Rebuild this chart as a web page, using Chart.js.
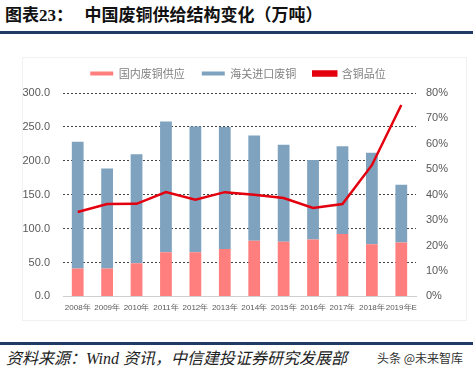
<!DOCTYPE html>
<html>
<head>
<meta charset="utf-8">
<script src="https://cdn.jsdelivr.net/npm/chart.js@4/dist/chart.umd.min.js"></script>
<style>
  html, body { margin:0; padding:0; background:#fff; }
  body { width:476px; height:373px; position:relative; overflow:hidden; }
  #title { position:absolute; left:5px; top:2px; font-family:"Noto Sans CJK SC", sans-serif; font-weight:bold; font-size:17px; color:#111; white-space:nowrap; line-height:24px; }
  #title .num { font-family:"Liberation Serif", serif; font-weight:bold; }
  #rule1 { position:absolute; left:0; top:31px; width:473px; height:3px; background:#1F3A63; }
  #frame { position:absolute; left:22px; top:57px; width:443px; height:262px; border:1px solid #f1f1f1; }
  #rule2 { position:absolute; left:0; top:342px; width:473px; height:3px; background:#1F3A63; }
  #source { position:absolute; left:6px; top:348px; font-family:"Liberation Serif", "Noto Sans CJK SC", serif; font-style:italic; font-size:16px; color:#222; white-space:nowrap; line-height:22px; }
  #wm { position:absolute; left:377px; top:350px; font-family:"Noto Sans CJK SC", sans-serif; font-size:12px; color:#333; white-space:nowrap; line-height:16px; }
  #wrap { position:absolute; left:0; top:0; width:476px; height:373px; }
</style>
</head>
<body>
<div id="title">图表<span class="num">23</span>：&nbsp;&nbsp;&nbsp;中国废铜供给结构变化（万吨）</div>
<div id="rule1"></div>
<div id="frame"></div>
<div id="rule2"></div>
<div id="source">资料来源：Wind 资讯，中信建投证券研究发展部</div>
<div id="wm">头条 @未来智库</div>
<div id="wrap"><canvas id="c" width="476" height="373"></canvas></div>
<script>
const categories = ["2008年","2009年","2010年","2011年","2012年","2013年","2014年","2015年","2016年","2017年","2018年","2019年E"];
const domesticSupply = [41, 41, 49, 65, 65, 70, 82, 80.5, 84, 92, 77, 79.5];
const importedScrap = [187, 147.5, 160.5, 193, 185.5, 180, 155.5, 143, 117, 129.5, 135, 85];
const copperGrade = [33.2, 36.3, 36.4, 41, 38, 41, 40, 38.7, 34.8, 36.3, 51.6, 75.3];
const seriesNames = ["国内废铜供应", "海关进口废铜", "含铜品位"];

const gridColor = (ctx) => (ctx.tick && ctx.tick.value === 0) ? 'rgba(0,0,0,0)' : '#444';

const legendGap = {
  id: 'legendGap',
  beforeLayout(chart) {
    const lg = chart.legend;
    if (lg && !lg._gapPatched) {
      const f = lg.fit.bind(lg);
      lg.fit = function () { f(); this.height += 4; };
      lg._gapPatched = true;
    }
  }
};

new Chart(document.getElementById('c'), {
  type: 'bar',
  data: {
    labels: categories,
    datasets: [
      { label: seriesNames[0], data: domesticSupply, backgroundColor: '#FF7F7F', yAxisID: 'y', order: 2, stack: 's' },
      { label: seriesNames[1], data: importedScrap, backgroundColor: '#7FA3BF', yAxisID: 'y', order: 3, stack: 's' },
      { label: seriesNames[2], data: copperGrade, type: 'line', borderColor: '#E3000F', backgroundColor: '#E3000F',
        borderWidth: 2.5, pointRadius: 0, tension: 0, yAxisID: 'y1', order: 1 }
    ]
  },
  plugins: [legendGap],
  options: {
    responsive: false,
    animation: false,
    layout: { padding: { top: 51, bottom: 53, left: 0, right: 0 } },
    datasets: { bar: { categoryPercentage: 1, barPercentage: 0.4 } },
    plugins: {
      tooltip: { enabled: false },
      legend: {
        position: 'top',
        labels: {
          padding: 17,
          boxWidth: 23,
          boxHeight: 4,
          color: '#808080',
          font: { family: '"Noto Sans CJK SC", sans-serif', size: 11 },
          sort: (a, b) => a.datasetIndex - b.datasetIndex
        }
      }
    },
    scales: {
      x: {
        stacked: true,
        grid: { display: false, drawTicks: false },
        border: { display: true, color: '#cfcfcf', width: 1 },
        ticks: { color: '#595959', font: { family: '"Liberation Sans", Arial, sans-serif', size: 8 }, padding: 7, maxRotation: 0, autoSkip: false }
      },
      y: {
        stacked: true,
        position: 'left',
        min: 0, max: 300,
        afterFit: (s) => { s.width = 63; },
        grid: { color: gridColor, lineWidth: 1, drawTicks: false },
        border: { display: false, dash: [2, 2] },
        ticks: { stepSize: 50, padding: 13, color: '#595959', font: { family: '"Liberation Sans", Arial, sans-serif', size: 11 },
          callback: (v) => Number(v).toFixed(1) }
      },
      y1: {
        position: 'right',
        min: 0, max: 80,
        afterFit: (s) => { s.width = 60; },
        grid: { display: false, drawTicks: false },
        border: { display: false },
        ticks: { stepSize: 10, padding: 10, color: '#595959', font: { family: '"Liberation Sans", Arial, sans-serif', size: 11 },
          callback: (v) => v + '%' }
      }
    }
  }
});
</script>
</body>
</html>
